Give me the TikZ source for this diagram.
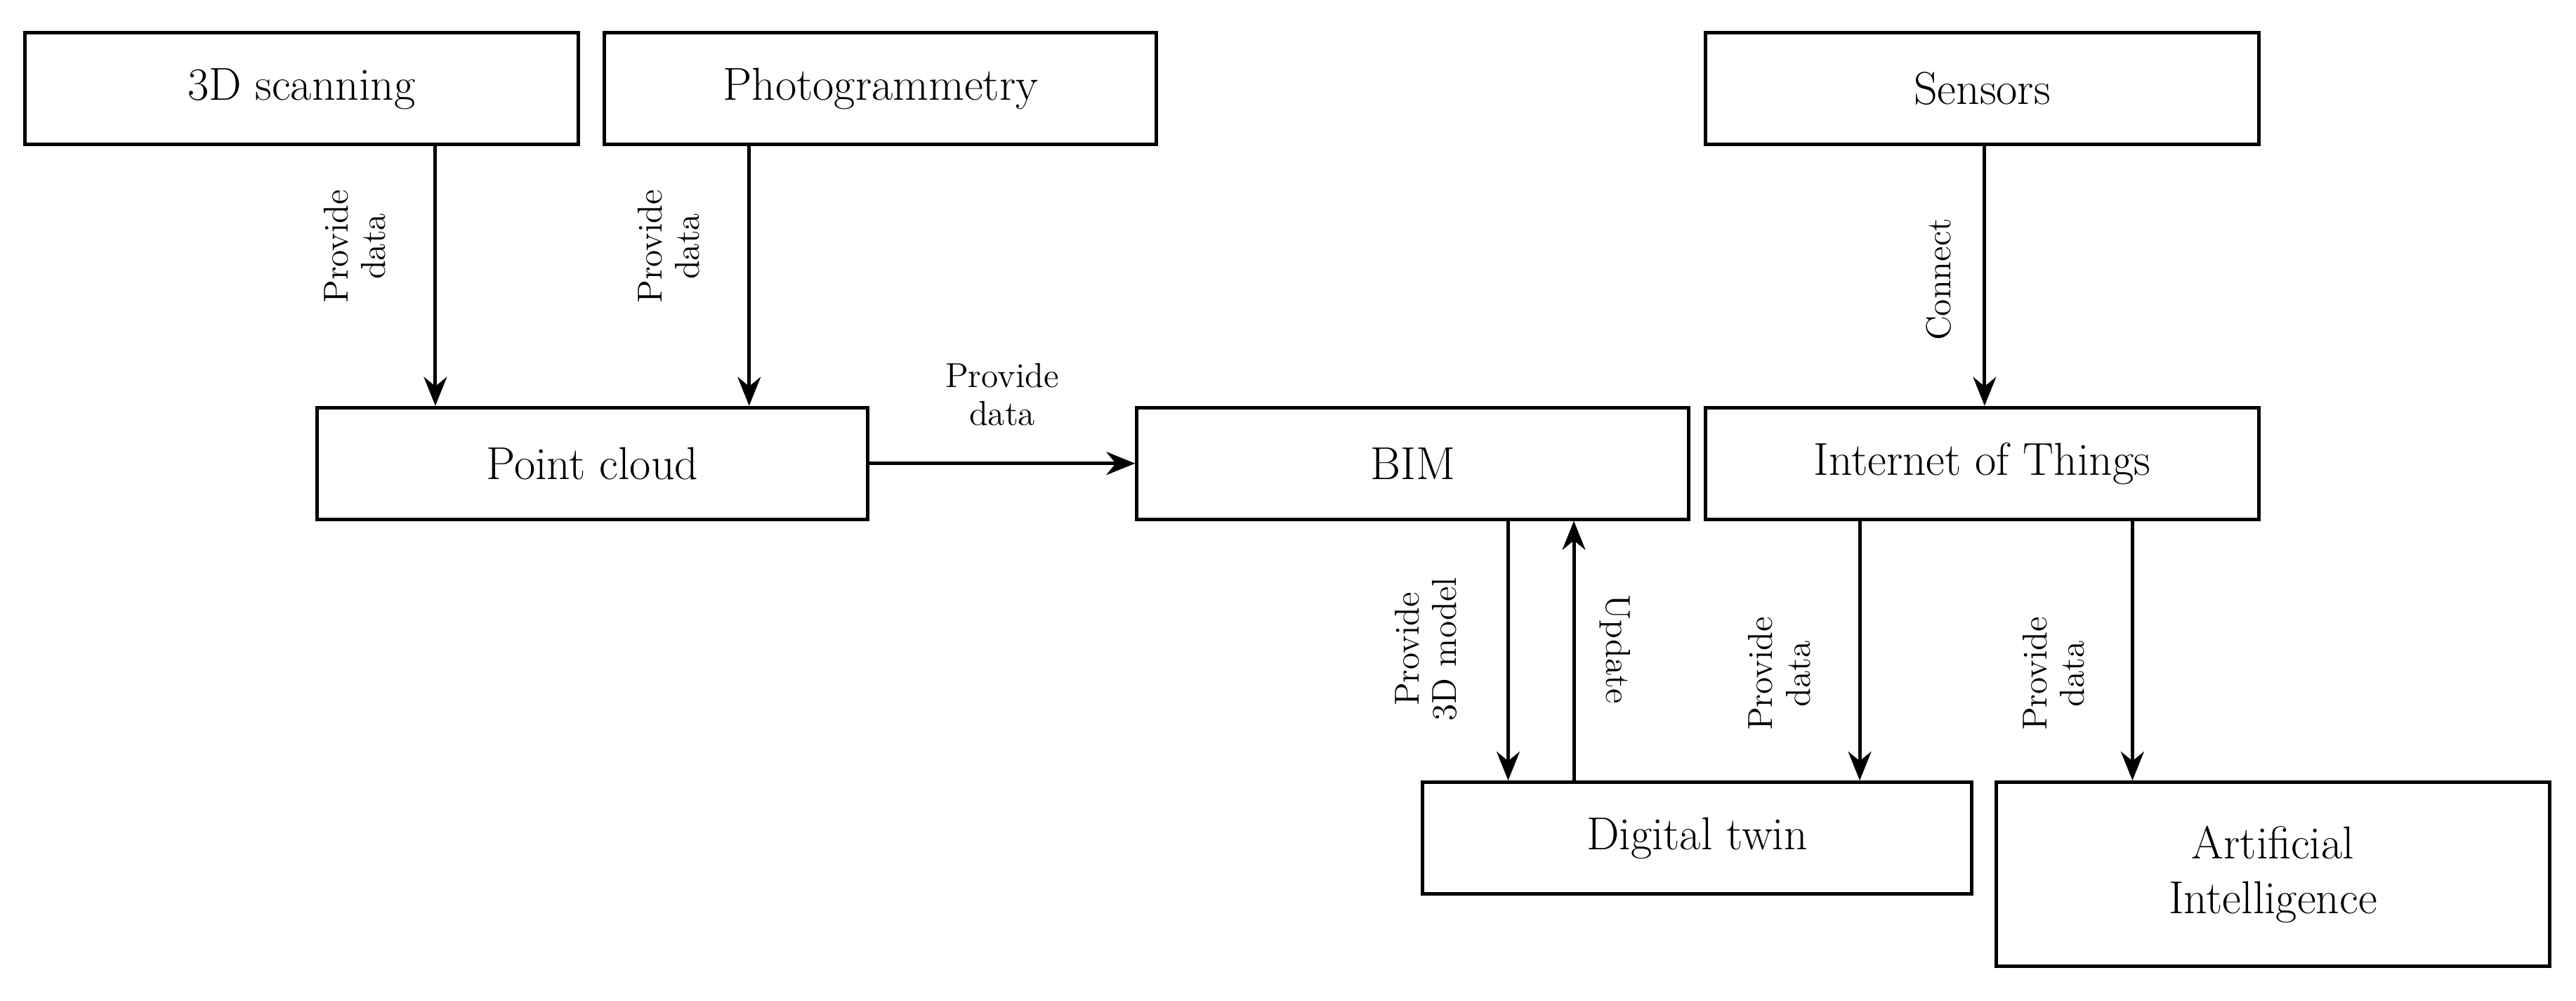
\documentclass[tikz,border=0pt]{standalone}
\usetikzlibrary{arrows.meta}
\begin{document}
\begin{tikzpicture}[x=0.02cm,y=-0.02cm,>={Stealth[length=10pt,width=8pt]},thick]
    \tikzstyle{block}=[draw, line width=1.2pt, minimum height=1.36cm, inner sep=0pt, font=\fontsize{16}{19}\selectfont, align=center]
    \tikzstyle{lbl}=[font=\fontsize{12}{13}\selectfont, align=center, rotate=90]
    \tikzstyle{link}=[->, line width=1.2pt]
    \useasboundingbox (0,0) rectangle (1568,609);

    % Top row
    \node[block, minimum width=6.74cm] (scan) at (183.5,54) {3D scanning};
    \node[block, minimum width=6.72cm] (photo) at (536,54) {Photogrammetry};
    \node[block, minimum width=6.74cm] (sens) at (1206.5,54) {Sensors};

    % Middle row
    \node[block, minimum width=6.7cm] (pc) at (360.5,282) {Point cloud};
    \node[block, minimum width=6.72cm] (bim) at (860,282) {BIM};
    \node[block, minimum width=6.74cm] (iot) at (1206.5,282) {Internet of Things};

    % Bottom row
    \node[block, minimum width=6.68cm] (dt) at (1033,510) {Digital twin};
    \node[block, minimum width=6.74cm, minimum height=2.24cm] (ai) at (1383.5,532) {Artificial\\Intelligence};

    % Connectors
    \draw[link] (scan.south -| 265,0) -- (pc.north -| 265,0);
    \draw[link] (photo.south -| 456,0) -- (pc.north -| 456,0);
    \draw[link] (sens.south -| 1208,0) -- (iot.north -| 1208,0);
    \draw[link] (pc.east) -- (bim.west);
    \draw[link] (bim.south -| 918,0) -- (dt.north -| 918,0);
    \draw[link] (dt.north -| 958,0) -- (bim.south -| 958,0);
    \draw[link] (iot.south -| 1132,0) -- (dt.north -| 1132,0);
    \draw[link] (iot.south -| 1298,0) -- (ai.north -| 1298,0);

    % Labels
    \node[lbl] (l1) at (216,150) {Provide\\data};
    \node[lbl] (l2) at (407,150) {Provide\\data};
    \node[lbl] (l3) at (1180,170) {Connect};
    \node[align=center, font=\fontsize{12}{13}\selectfont] (l4) at (610,240) {Provide\\data};
    \node[lbl] (l5) at (868,395) {Provide\\3D model};
    \node[lbl, rotate=180] (l6) at (983,395) {Update};
    \node[lbl] (l7) at (1083,410) {Provide\\data};
    \node[lbl] (l8) at (1250,410) {Provide\\data};
\end{tikzpicture}
\end{document}
